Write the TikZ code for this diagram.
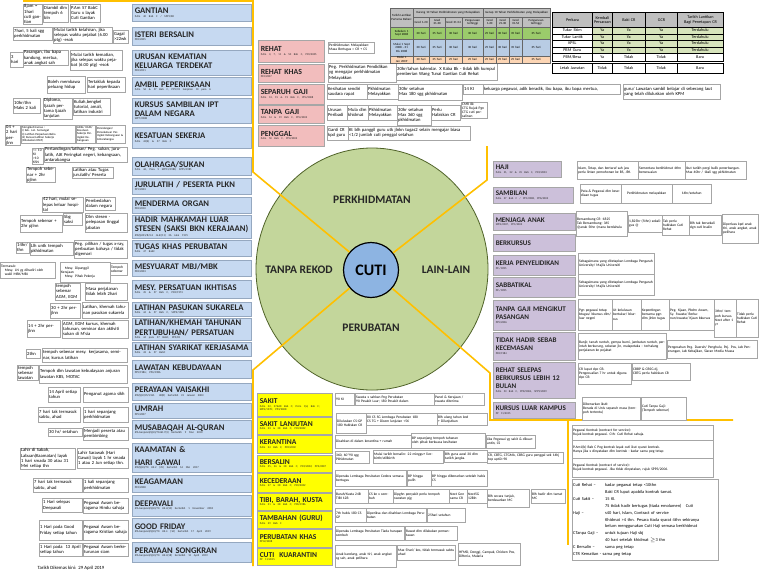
\documentclass[tikz,border=0pt]{standalone}
\usepackage{fontspec}
\setmainfont{Carlito}
\usepackage{tikz}
\usetikzlibrary{shapes.geometric}
\definecolor{Gold}{HTML}{FFC000}
\definecolor{Edge}{HTML}{A6A6A6}
\definecolor{BlueFill}{HTML}{C6D9F1}
\definecolor{BlueEdge}{HTML}{95A8C0}
\definecolor{RedFill}{HTML}{F2BDBD}
\definecolor{PurpleFill}{HTML}{CCC0DA}
\definecolor{YellowFill}{HTML}{FFFF00}
\definecolor{Leaf}{HTML}{C3D69B}
\definecolor{LeafEdge}{HTML}{4F6228}
\definecolor{Core}{HTML}{8DB4E2}
\definecolor{THead}{HTML}{BFBFBF}
\definecolor{TGreen}{HTML}{9BCB6B}
\definecolor{TBlue}{HTML}{B8CCE4}
\definecolor{TPeach}{HTML}{FCD5B4}
\definecolor{PGreen}{HTML}{D7E4BC}
\newcommand{\lawref}[1]{\\{\fontsize{2.8}{3.3}\selectfont\mdseries #1\par}}
\tikzset{
  sz/.code 2 args={\pgfmathsetmacro\boxw{#1-2}\pgfmathsetmacro\boxh{#2}\edef\boxkeys{text width=\boxw pt,minimum height=\boxh pt}\expandafter\pgfkeysalso\expandafter{\boxkeys}},
  tsz/.code 2 args={\pgfmathsetmacro\boxw{#1-5}\pgfmathsetmacro\boxh{#2}\edef\boxkeys{text width=\boxw pt,minimum height=\boxh pt}\expandafter\pgfkeysalso\expandafter{\boxkeys}},
  note/.style={draw=Edge,fill=white,line width=.35pt,anchor=north west,align=left,inner xsep=1pt,inner ysep=.5pt,font=\fontsize{4.6}{5.2}\selectfont},
  smallnote/.style={font=\fontsize{3.6}{4.1}\selectfont},
  tinynote/.style={font=\fontsize{3}{3.4}\selectfont},
  titlebox/.style={anchor=north west,align=left,inner xsep=2.5pt,inner ysep=1pt,line width=.5pt,text=black!85},
  bluebox/.style={titlebox,draw=BlueEdge,fill=BlueFill,font=\fontsize{8.6}{9.6}\selectfont\bfseries},
  redbox/.style={titlebox,draw=Edge,fill=RedFill,font=\fontsize{7.8}{8.8}\selectfont\bfseries},
  purplebox/.style={titlebox,draw=Edge,fill=PurpleFill,font=\fontsize{7.1}{8.1}\selectfont\bfseries},
  yellowbox/.style={titlebox,draw=Edge,fill=YellowFill,font=\fontsize{7.5}{8.5}\selectfont\bfseries},
  goldline/.style={draw=Gold,line width=1.6pt},
  wheel/.style={ellipse,draw=LeafEdge,fill=Leaf,line width=.8pt,minimum width=232pt,minimum height=242pt},
  hub/.style={circle,draw=black,fill=Core,line width=1.2pt,minimum size=55pt,inner sep=0pt,font=\fontsize{16}{18}\selectfont\bfseries},
  sector/.style={font=\fontsize{11.5}{13}\selectfont\bfseries,text=black!85},
  cell/.style={draw=black!60,line width=.3pt,anchor=north west,inner xsep=1pt,inner ysep=0pt,align=center,font=\fontsize{3.1}{3.5}\selectfont},
  pcell/.style={draw=black,line width=.6pt,anchor=north west,inner xsep=1pt,inner ysep=0pt,align=center,font=\fontsize{4.2}{4.7}\selectfont}
}
\begin{document}
\begin{tikzpicture}[x=1pt,y=-1pt]
  \fill[white] (0,0) rectangle (768,576);
  \useasboundingbox (0,0) rectangle (768,576);

  % hub and the four groups
  \node[wheel] (wheel) at (372,269) {};
  \node[hub] (cuti) at (371,270) {CUTI};
  \coordinate (tl1) at (253,172); \coordinate (tl2) at (253,1); \coordinate (tl3) at (23,1);
  \coordinate (bl1) at (253,370); \coordinate (bl2) at (253,566);
  \coordinate (tr1) at (487,180); \coordinate (tr2) at (487,146);
  \coordinate (br1) at (490,373); \coordinate (br2) at (490,420); \coordinate (br3) at (733,420);
  \coordinate (bs1) at (568,420); \coordinate (bs2) at (568,545);
  \draw[goldline] (cuti) -- (tl1) -- (tl2) -- (tl3);
  \draw[goldline] (cuti) -- (bl1) -- (bl2);
  \draw[goldline] (cuti) -- (tr1) -- (tr2);
  \draw[goldline] (cuti) -- (br1) -- (br2) -- (br3);
  \draw[goldline] (bs1) -- (bs2);
  \node[sector] (khidmat) at (372,200) {PERKHIDMATAN};
  \node[sector] (tanparekod) at (299,270) {TANPA REKOD};
  \node[sector] (lainlain) at (446,270) {LAIN-LAIN};
  \node[sector] (perubatan) at (371,328) {PERUBATAN};

  % tanpa rekod: titles
  \node[bluebox,tsz={119}{17}] (b1) at (132,4) {GANTIAN\lawref{P.Am 40 Bab C / SPP1/80}};
  \node[bluebox,tsz={119}{18}] (b2) at (132,27) {ISTERI BERSALIN\lawref{PP6/2005}};
  \node[bluebox,tsz={119}{25}] (b3) at (132,50) {URUSAN KEMATIAN\\KELUARGA TERDEKAT\lawref{PP6/2011}};
  \node[bluebox,tsz={119}{18}] (b4) at (132,77) {AMBIL PEPERIKSAAN\lawref{P.Am 56 \& 57 Bab C, PP5/76 lampiran 10 para 6}};
  \node[bluebox,tsz={119}{25}] (b5) at (132,98) {KURSUS SAMBILAN IPT\\DALAM NEGARA\lawref{SPP7/2008}};
  \node[bluebox,tsz={119}{21}] (b6) at (132,127) {KESATUAN SEKERJA\lawref{P.Am 42(b) \& 57 Bab C}};
  \node[bluebox,tsz={119}{18}] (b7) at (132,157) {OLAHRAGA/SUKAN\lawref{P.Am 46, Para 5 SPP11/1980; SPP5/1985}};
  \node[bluebox,tsz={119}{16}] (b8) at (132,178) {JURULATIH / PESERTA PLKN\lawref{PP1/2003}};
  \node[bluebox,tsz={119}{16}] (b9) at (132,197) {MENDERMA ORGAN\lawref{PP6/2010}};
  \node[bluebox,tsz={119}{23}] (b10) at (132,215) {HADIR MAHKAMAH LUAR\\STESEN (SAKSI BKN KERAJAAN)\lawref{JPA(S)201/8/3-3 Jk.6/(11) 26 Julai 1991}};
  \node[bluebox,tsz={119}{16}] (b11) at (132,240) {TUGAS KHAS PERUBATAN\lawref{P.Am 47 BabC}};
  \node[bluebox,tsz={119}{16}] (b12) at (132,260) {MESYUARAT MBJ/MBK\lawref{PP6/2003}};
  \node[bluebox,tsz={119}{18}] (b13) at (132,280) {MESY. PERSATUAN IKHTISAS\lawref{P.Am 45 \& 57 Bab C, PP6/1973}};
  \node[bluebox,tsz={119}{14}] (b14) at (132,302) {LATIHAN PASUKAN SUKARELA\lawref{P.Am 44 \& 57 Bab C, SPP2/1985}};
  \node[bluebox,tsz={119}{22}] (b15) at (132,318) {LATIHAN/KHEMAH TAHUNAN\\PERTUBUHAN/ PERSATUAN\lawref{P.Am 44 para 57 BabC, PP5/81}};
  \node[bluebox,tsz={119}{14}] (b16) at (132,342) {LATIHAN SYARIKAT KERJASAMA\lawref{P.Am 43 \& 57 BabC}};
  \node[bluebox,tsz={119}{18}] (b17) at (132,360) {LAWATAN KEBUDAYAAN\lawref{PP5/1986; PP6/1986}};
  \node[bluebox,tsz={119}{17}] (b18) at (132,383) {PERAYAAN VAISAKHI\lawref{JPA(S)(K)15/5/Jld. 48(8) bertarikh 31 Januari 2003}};
  \node[bluebox,tsz={119}{15}] (b19) at (132,403) {UMRAH\lawref{PP5/2007}};
  \node[bluebox,tsz={119}{18}] (b20) at (132,420) {MUSABAQAH AL-QURAN\lawref{JPA.Ganjaran(S)(K)/70.Jkt.7(3) bertarikh 9 Mac 2010}};
  \node[bluebox,tsz={119}{29}] (b21) at (132,443) {KAAMATAN \&\\[3pt]HARI GAWAI\lawref{JPA(S)(K)/70 Jld.2 (25) bertarikh 16 Mei 2017}};
  \node[bluebox,tsz={119}{17}] (b22) at (132,475) {KEAGAMAAN\lawref{PP4/2008}};
  \node[bluebox,tsz={119}{21}] (b23) at (132,495) {DEEPAVALI\lawref{JPA.Ganjaran(S)(K)/70 Jld.4(10) bertarikh 1 November 2018}};
  \node[bluebox,tsz={119}{20}] (b24) at (132,518) {GOOD FRIDAY\lawref{JPA.Ganjaran(S)(K)/70 Jld.4 (16) bertarikh 17 April 2019}};
  \node[bluebox,tsz={119}{20}] (b25) at (132,542) {PERAYAAN SONGKRAN\lawref{JPA.Ganjaran(S)(K)/70 Jld.4(18) bertarikh 13 April 2019}};

  % tanpa rekod: notes
  \node[note,sz={19}{18}] (l1) at (23,4) {8jam = 1hari cuti gantian};
  \node[note,sz={25}{18}] (l2) at (43,4) {Diambil dlm tempoh 6 bln};
  \node[note,sz={30}{18}] (l3) at (70,4) {P.Am 57 BabC Guru x layak Cuti Gantian};
  \node[note,sz={39}{13}] (l4) at (13,27) {7hari, 5 kali sgg perkhidmatan};
  \node[note,sz={59}{16}] (l5) at (53,27) {Mulai tarikh kelahiran, jika selepas waktu pejabat (6.00 ptg) -esok};
  \node[note,sz={15}{13}] (l6) at (113,30) {Gagal >22wk};
  \node[note,sz={13}{15}] (l7) at (10,52) {3 hari};
  \node[note,sz={45}{15}] (l8) at (23,50) {Pasangan, ibu bapa kandung, mertua, anak angkat sah};
  \node[note,sz={52}{20}] (l9) at (70,50) {Mulai tarikh kematian, jika selepas waktu pejabat (6.00 ptg) -esok};
  \node[note,sz={38}{17}] (l10) at (47,76) {Boleh membawa peluang hidup};
  \node[note,sz={38}{15}] (l11) at (87,77) {Tertakluk kepada hari peperiksaan};
  \node[note,sz={27}{15}] (l12) at (13,98) {10hr/thn Maks 2 kali};
  \node[note,sz={29}{17}] (l13) at (43,98) {Diploma, Ijazah pertama Ijazah lanjutan};
  \node[note,sz={37}{17}] (l14) at (73,98) {Kuliah,bengkel tutorial, amali, latihan industri};
  \node[note,sz={15}{15}] (l15) at (5,125) {04 + 2 hari perjlnn};
  \node[note,tinynote,sz={54}{18}] (l16) at (21,125) {Mengikuti kursus :\\i) Sek. Lat. Semangat\\ii) Latihan Perpaduan Belia\\iii) Kursus/Latihan Sekerja\\(Diluluskan KSM)};
  \node[note,tinynote,sz={19}{18}] (l17) at (76,125) {ADSL/ EGM/ Kesatuan Sekerja Peringkat Kebangsaan};
  \node[note,tinynote,sz={29}{18}] (l18) at (96,125) {Persidangan/ Persekutuan Peringkat Kebangsaan \& Antarabangsa};
  \node[note,smallnote,sz={11}{10}] (l19) at (32,148) {<= 10 KI\\>10 KSN};
  \node[note,sz={83}{13}] (l20) at (44,147) {Pertandingan/latihan/ Peg. sukan, jurulatih, AJK Peringkat negeri, kebangsaan, antarabangsa};
  \node[note,sz={29}{11}] (l21) at (26,167) {Tempoh sebenar + 2hr pjlnn};
  \node[note,sz={41}{11}] (l22) at (72,167) {Latihan atau Tugas jurulatih/ Peserta};
  \node[note,sz={41}{11}] (l23) at (42,197) {42 hari, mulai selepas keluar hospital};
  \node[note,sz={30}{13}] (l24) at (85,197) {Pembedahan dalam negara};
  \node[note,sz={42}{17}] (l25) at (20,215) {Tempoh sebenar + 2hr pjlnn};
  \node[note,sz={19}{12}] (l26) at (63,213) {Sbg saksi};
  \node[note,sz={42}{19}] (l27) at (85,213) {Dlm stesen - pelepasan tinggal jabatan};
  \node[note,sz={13}{11}] (l28) at (16,242) {14hr/ thn};
  \node[note,sz={43}{13}] (l29) at (30,242) {Llh untk tempoh pkhidmatan};
  \node[note,sz={53}{18}] (l30) at (74,240) {Peg. pilihan / tugas x-ray, perbuatan bahaya / tidak digemari};
  \node[note,smallnote,sz={55}{16}] (l31) at (0,262) {Termasuk:\\ \quad Mesy. LN yg dihadiri oleh\\ \quad wakil MBK/MBJ};
  \node[note,smallnote,sz={50}{20}] (l32) at (60,262) {\quad Mesy. Dipanggil\\Kerajaan\\\quad Mesy. Pihak Pekerja};
  \node[note,smallnote,sz={17}{12}] (l33) at (110,263) {Tempoh sebenar};
  \node[note,sz={25}{17}] (l34) at (55,283) {tempoh sebenar AGM, EGM};
  \node[note,sz={42}{17}] (l35) at (85,283) {Masa perjalanan tidak lebih 2hari};
  \node[note,sz={30}{15}] (l36) at (50,303) {30 + 2hr perjlnn};
  \node[note,sz={46}{16}] (l37) at (82,302) {Latihan, khemah tahunan pasukan sukarela};
  \node[note,sz={33}{17}] (l38) at (27,320) {14 + 2hr perjlnn};
  \node[note,sz={66}{18}] (l39) at (62,320) {AGM, EGM kursus, khemah tahunan, seminar dan aktiviti sukan di M'sia};
  \node[note,sz={14}{9}] (l40) at (26,349) {2thn};
  \node[note,sz={85}{14}] (l41) at (42,348) {tempoh sebenar mesy. kerjasama, seminar, kursus latihan};
  \node[note,sz={21}{15}] (l42) at (17,365) {tempoh sebenar lawatan};
  \node[note,sz={88}{18}] (l43) at (39,365) {Tempoh dlm lawatan kebudayaan anjuran lawatan KBS, MOTAC};
  \node[note,sz={32}{15}] (l44) at (48,387) {14 April setiap tahun};
  \node[note,sz={45}{15}] (l45) at (83,387) {Penganut agama sikh};
  \node[note,sz={42}{15}] (l46) at (38,407) {7 hari tak termasuk sabtu, ahad};
  \node[note,sz={45}{15}] (l47) at (83,407) {1 hari sepanjang perkhidmatan};
  \node[note,sz={34}{8}] (l48) at (48,428) {30 hr/ setahun};
  \node[note,sz={45}{13}] (l49) at (83,427) {Menjadi peserta atau pembimbing};
  \node[note,sz={55}{20}] (l50) at (20,448) {Lahir di Sabah, Labuan(Kaamatan) layak 1 hari smada 30 atau 31 Mei setiap thn};
  \node[note,sz={51}{20}] (l51) at (77,448) {Lahir Sarawak (Hari Gawai) layak 1 hr smada 1 atau 2 Jun setiap thn.};
  \node[note,sz={49}{14}] (l52) at (33,478) {7 hari tak termasuk sabtu, ahad};
  \node[note,sz={45}{14}] (l53) at (83,478) {1 kali sepanjang perkhidmatan};
  \node[note,sz={40}{14}] (l54) at (42,498) {1 Hari selepas Deepavali};
  \node[note,sz={45}{15}] (l55) at (83,498) {Pegawai Awam beragama Hindu sahaja};
  \node[note,sz={43}{20}] (l56) at (39,520) {1 Hari pada Good Friday setiap tahun};
  \node[note,sz={45}{20}] (l57) at (83,520) {Pegawai Awam beragama Kristian sahaja};
  \node[note,sz={43}{13}] (l58) at (39,543) {1 Hari pada\ \ 13 April setiap tahun};
  \node[note,sz={45}{13}] (l59) at (83,543) {Pegawai Awam berketurunan siam};
  \node[font=\fontsize{4.8}{5.4}\selectfont] (updated) at (71,568) {Tarikh Dikemas kini:\ \ 29 April 2019};

  % perkhidmatan
  \node[redbox,tsz={66}{22}] (r1) at (258,40) {REHAT\lawref{P.Am 3, 7, 11 \& 50 Bab C, PP4/2005}};
  \node[redbox,tsz={66}{18}] (r2) at (258,64) {REHAT KHAS\lawref{PP4/2007}};
  \node[redbox,tsz={66}{20}] (r3) at (258,84) {SEPARUH GAJI\lawref{P.Am 13, 15 \& 19 Bab C, PP4/2008}};
  \node[redbox,tsz={66}{18}] (r4) at (258,105) {TANPA GAJI\lawref{P.Am 14 \& 19 Bab C, PP4/2002}};
  \node[redbox,tsz={66}{21}] (r5) at (258,125) {PENGGAL\lawref{P.Am 50 Bab C, PP4/2002}};
  \node[note,smallnote,sz={46}{11}] (rn1) at (328,42) {Perkhidmatan Melayakkan:\\Masa Bertugas = CR + CS};
  \node[note,sz={68}{19}] (rn2) at (328,63) {Peg. Perkhidmatan Pendidikan yg mengajar perkhidmatan Melayakkan};
  \node[note,sz={101}{17}] (rn3) at (396,63) {30hr/tahun kalendar. X Kaba Bk - tidak blh kumpul pemberian Wang Tunai Gantian Cuti Rehat};
  \node[note,sz={40}{15}] (rn4) at (327,84) {Kesihatan sendiri saudara rapat};
  \node[note,sz={31}{15}] (rn5) at (367,84) {Pkhidmatan Melayakkan};
  \node[note,sz={64}{16}] (rn6) at (398,84) {30hr setahun\\Max 180 sgg pkhidmatan};
  \node[note,sz={20}{10}] (rn7) at (463,84) {14 KI};
  \node[note,sz={137}{10}] (rn8) at (483,84) {keluarga pegawai, adik beradik, ibu bapa, ibu bapa mertua,};
  \node[note,sz={97}{15}] (rn9) at (623,84) {guru/ Lawatan sambil belajar di seberang laut yang telah diluluskan oleh KPM};
  \node[note,sz={20}{15}] (rn10) at (327,105) {Urusan Peribadi};
  \node[note,sz={21}{15}] (rn11) at (347,105) {Mula dlm khidmat};
  \node[note,sz={29}{15}] (rn12) at (368,105) {Pkhidmatan Melayakkan};
  \node[note,sz={34}{20}] (rn13) at (397,105) {30hr setahun Max 360 sgg pkhidmatan};
  \node[note,sz={29}{15}] (rn14) at (431,105) {Perlu Habiskan CR};
  \node[note,smallnote,sz={26}{16}] (rn15) at (461,102) {CMR 8k\\CTG Rujuk Pgn\\CTG cuti persalinan};
  \node[note,sz={21}{14}] (rn16) at (327,126) {Ganti CR kpd guru};
  \node[note,sz={122}{14}] (rn17) at (348,126) {Kt blh panggil guru utk jlnkn tugas2 selain mengajar biasa <1/2 jumlah cuti penggal setahun};

  % jadual kelayakan cuti rehat
  \node[cell,fill=THead,sz={23}{19}] (lt-h0) at (390,8) {Tarikh Lantikan Pertama Bahan:};
  \node[cell,fill=THead,sz={70}{9}] (lt-h1) at (413,8) {Kurang 10 Tahun Perkhidmatan yang Melayakkan};
  \node[cell,fill=THead,sz={67}{9}] (lt-h2) at (483,8) {Genap 10 Tahun Perkhidmatan yang Melayakkan};
  \foreach \g [count=\c] in {Gred 1-20,Gred 21-30,Gred 31-54,Pengurusan tertinggi,Gred 1-20,Gred 21-30,Gred 31-54,Pengurusan tertinggi}{
    \pgfmathsetmacro\xa{{390,413,429,445,462,483,496,509,522,550}[\c]}
    \pgfmathsetmacro\xb{{390,413,429,445,462,483,496,509,522,550}[\c+1]}
    \node[cell,fill=THead,sz={\xb-\xa}{10}] (lt-s\c) at (\xa,17) {\g};
  }
  \foreach \ya/\yb/\fc/\lab/\vals [count=\r] in {
      27/39/TGreen/{Sebelum 1 Sept 2008}/{20 hari,25 hari,30 hari,30 hari,25 hari,30 hari,35 hari,35 hari},
      39/56/TBlue/{Mulai 1 Sept 2008 - 31 Dis 2008}/{20 hari,25 hari,30 hari,30 hari,25 hari,30 hari,35 hari,35 hari},
      56/63/TPeach/{Mulai 1 Jan 2009}/{20 hari,25 hari,25 hari,25 hari,25 hari,25 hari,25 hari,25 hari}}{
    \node[cell,fill=\fc,sz={23}{\yb-\ya}] (lt-\r-0) at (390,\ya) {\lab};
    \foreach \v [count=\c] in \vals {
      \pgfmathsetmacro\xa{{390,413,429,445,462,483,496,509,522,550}[\c]}
      \pgfmathsetmacro\xb{{390,413,429,445,462,483,496,509,522,550}[\c+1]}
      \node[cell,fill=\fc,sz={\xb-\xa}{\yb-\ya}] (lt-\r-\c) at (\xa,\ya) {\v};
    }
  }

  % jadual baki cuti rehat
  \foreach \h [count=\c] in {Perkara,Kembali Persaraan,Baki CR,GCR,Tarikh Lantikan Bagi Penetapan CR}{
    \pgfmathsetmacro\xa{{552,592,612,645,677,723}[\c-1]}
    \pgfmathsetmacro\xb{{552,592,612,645,677,723}[\c]}
    \node[pcell,fill=THead,line width=.9pt,sz={\xb-\xa}{15}] (pt-0-\c) at (\xa,12) {\h};
  }
  \foreach \ya/\yb/\fc/\lab/\vals [count=\r] in {
      27/33.5/PGreen/{Tukar Skim}/{Ya,Ya,Ya,Terdahulu},
      33.5/40/PGreen/{Tukar Lantik}/{Ya,Ya,Ya,Terdahulu},
      40/46.5/PGreen/{KPSL}/{Ya,Ya,Ya,Terdahulu},
      46.5/53/PGreen/{PBM Guru}/{Ya,Ya,Ya,Terdahulu},
      53/61/white/{PBM/Besa}/{Ya,Tidak,Tidak,Baru},
      62.5/72.5/white/{Letak Jawatan}/{Tidak,Tidak,Tidak,Baru}}{
    \node[pcell,fill=white,sz={40}{\yb-\ya}] (pt-\r-1) at (552,\ya) {\lab};
    \foreach \v [count=\c] in \vals {
      \pgfmathsetmacro\xa{{552,592,612,645,677,723}[\c]}
      \pgfmathsetmacro\xb{{552,592,612,645,677,723}[\c+1]}
      \node[pcell,line width=.4pt,fill=\fc,sz={\xb-\xa}{\yb-\ya}] (pt-\r-v\c) at (\xa,\ya) {\v};
    }
  }

  % lain-lain
  \node[purplebox,tsz={68}{16}] (p1) at (493,161) {HAJI\lawref{P.Am 31, 32 \& 35 Bab C, PP4/2003}};
  \node[purplebox,tsz={80}{16}] (p2) at (493,187) {SAMBILAN\lawref{P.Am 37 Bab C / PP1/2008, PP6/2003}};
  \node[purplebox,tsz={82}{17}] (p3) at (493,213) {MENJAGA ANAK\lawref{SPP4/2007, PP1/2003}};
  \node[purplebox,tsz={82}{17}] (p4) at (493,234) {BERKURSUS};
  \node[purplebox,tsz={82}{20}] (p5) at (493,255) {KERJA PENYELIDIKAN\lawref{PP../1985}};
  \node[purplebox,tsz={82}{20}] (p6) at (493,277) {SABBATIKAL\lawref{PP../1985}};
  \node[purplebox,tsz={82}{30}] (p7) at (493,300) {TANPA GAJI MENGIKUT\\PASANGAN\lawref{PP5/2006}};
  \node[purplebox,tsz={82}{28}] (p8) at (493,332) {TIDAK HADIR SEBAB\\KECEMASAN\lawref{PP6/1984}};
  \node[purplebox,tsz={82}{36}] (p9) at (493,362) {REHAT SELEPAS\\BERKURSUS LEBIH 12\\BULAN\lawref{P.Am 53 Bab C, PP8/2004, SPP9/2009}};
  \node[purplebox,tsz={82}{16}] (p10) at (493,402) {KURSUS LUAR KAMPUS\lawref{PP 11/2015}};
  \node[note,smallnote,sz={61}{18}] (pn1) at (577,161) {Islam, Tetap, dan bertaraf sah jaw perlu lintan pemohonan ke BS, JPA};
  \node[note,smallnote,sz={47}{18}] (pn2) at (638,161) {Sementara berkhidmat 4thn bersesuaian};
  \node[note,smallnote,sz={61}{18}] (pn3) at (685,161) {Ikut tarikh pergi balik penerbangan. Max 40hr / 1kali sgg pkhidmatan};
  \node[note,smallnote,sz={41}{19}] (pn4) at (580,184) {Pata \& Pegawai dlm kesediaan tugas};
  \node[note,smallnote,align=center,sz={51}{19}] (pn5) at (621,184) {Perkhidmatan melayakkan};
  \node[note,smallnote,align=center,sz={39}{19}] (pn6) at (672,184) {14hr/setahun};
  \node[note,smallnote,sz={51}{25}] (pn7) at (576,211) {Bersambung CR -1825\\ Tak Bersambung- 365\\@anak 5thn (mana berdahulu};
  \node[note,smallnote,sz={34}{17}] (pn8) at (628,215) {1,825hr (5thn) sekaligus @};
  \node[note,smallnote,sz={27}{20}] (pn9) at (662,215) {Tak perlu habiskan Cuti Rehat};
  \node[note,smallnote,sz={32}{20}] (pn10) at (689,215) {Blh tak bersekali dgn cuti bsalin};
  \node[note,smallnote,sz={36}{29}] (pn11) at (722,214) {Diperluas kpd anak tiri, anak angkat, anak pelihara};
  \node[note,smallnote,sz={76}{21}] (pn12) at (578,253) {Sebagaimana yang ditetapkan Lembaga Pengarah University/ Majlis Universiti};
  \node[note,smallnote,sz={76}{21}] (pn13) at (578,274) {Sebagaimana yang ditetapkan Lembaga Pengarah University/ Majlis Universiti};
  \node[note,smallnote,sz={34}{31}] (pn14) at (578,299) {Pgn pegawai tetap btugas/ bkursus dlm/ luar negeri};
  \node[note,smallnote,sz={29}{31}] (pn15) at (612,299) {Ut kelulusan bertukar/ bkursus};
  \node[note,smallnote,sz={28}{31}] (pn16) at (641,299) {Kepentingan bersama pgn dlm jlnkn tugas};
  \node[note,smallnote,sz={45}{31}] (pn17) at (669,299) {Peg. Kjaan, Pbdrn Awam, Sy. Swasta/ Berkanun/swasta/ Kjaan bkursus};
  \node[note,smallnote,sz={22}{38}] (pn18) at (714,299) {3thn/ tempoh kursus. Next after 1 yr};
  \node[note,smallnote,sz={22}{38}] (pn19) at (736,299) {Tidak perlu habiskan Cuti Rehat};
  \node[note,smallnote,sz={88}{26}] (pn20) at (578,333) {Banjir, tanah runtuh, gempa bumi, jambatan runtuh, perintah berkurung, sekatan jln, malapetaka -- terhalang perjalanan ke pejabat};
  \node[note,smallnote,sz={90}{18}] (pn21) at (667,340) {Pengesahan Peg. Daerah/ Penghulu, Pej. Pos, Jab Penerangan, Jab Kebajikan, Siaran Media Massa};
  \node[note,smallnote,sz={53}{21}] (pn22) at (578,363) {CR luput dpc CB.\\Pengecualian 7 hr untuk diguna dpc CB};
  \node[note,smallnote,sz={58}{17}] (pn23) at (632,363) {CBBP \& CBSG dj,\\CBTG perlu habiskan CR};
  \node[note,smallnote,sz={58}{23}] (pn24) at (582,397) {Dibenarkan ikuti:\\Berada di Univ separuh masa (tempoh tertentu)};
  \node[note,smallnote,sz={45}{23}] (pn25) at (641,397) {Cuti Tanpa Gaji:\\(Tempoh sebenar)};

  % pegawai kontrak
  \node[note,smallnote,sz={141}{15}] (k1) at (572,425) {Pegawai Kontrak (contract for service):\\Rujuk kontrak pegawai. Cth: Cuti Rehat sahaja.};
  \node[note,smallnote,sz={141}{18}] (k2) at (572,440) {P.Am1(b) Bab C Peg kontrak layak cuti ikut syarat kontrak.\\Hanya jika x dinyatakan dlm kontrak - kadar sama peg tetap};
  \node[note,smallnote,sz={141}{19}] (k3) at (572,458) {Pegawai Kontrak (contract of service):\\Rujuk kontrak pegawai. Jika tidak dinyatakan, rujuk SPP3/2006.};
  \node[note,font=\fontsize{4.4}{6.9}\selectfont,sz={146}{81}] (k4) at (572,479) {\begin{tabular}{@{}p{30pt}@{\hspace{2pt}}l@{}}
    Cuti Rehat -- & kadar pegawai tetap <10thn\\
     & Baki CR luput apabila kontrak tamat.\\
    Cuti Sakit -- & 15 KI.\\
     & 7S tidak hadir bertugas (tiada emolumen)\quad Cuti\\
    Haji -- & s40 hari, Islam, Contract of service\\
     & Khidmat >4 thn. Pesara tiada syarat 4thn sekiranya\\
     & belum menggunakan Cuti Haji semasa berkhidmat\\
    CTanpa Gaji -- & untuk tujuan Haji sbj\\
     & 40 hari setelah khidmat \(\geq\)3 thn\\
    C Bersalin -- & sama peg tetap\\
    \multicolumn{2}{@{}l}{CTR Kematian - sama peg tetap}
  \end{tabular}};

  % perubatan
  \node[yellowbox,tsz={75}{23}] (y1) at (257,393) {SAKIT\lawref{P.Am 22, 27\&28 Bab C; P.Am 1(a) Bab F; SPP4/1970; PP3/2008}};
  \node[yellowbox,tsz={75}{17}] (y2) at (257,417) {SAKIT LANJUTAN\lawref{P.Am 23 \& 28 Bab C; PP4/2002}};
  \node[yellowbox,tsz={75}{18}] (y3) at (257,435) {KERANTINA\lawref{P.Am 24 Bab C; PP4/2002}};
  \node[yellowbox,tsz={75}{17}] (y4) at (257,455) {BERSALIN\lawref{P.Am 25, 26 \& 28 Bab C; PP4/2002; PP2/2007}};
  \node[yellowbox,tsz={75}{19}] (y5) at (257,473) {KECEDERAAN\lawref{P.Am 27 \& 28 Bab C; PP4/2002}};
  \node[yellowbox,tsz={75}{17}] (y6) at (257,493) {TIBI, BARAH, KUSTA\lawref{P.Am 21 \& 28 Bab C; PP6/1986}};
  \node[yellowbox,tsz={75}{17}] (y7) at (257,511) {TAMBAHAN (GURU)\lawref{P.Am 29 Bab C}};
  \node[yellowbox,tsz={75}{18}] (y8) at (257,529) {PERUBATAN KHAS\lawref{PP12/2008}};
  \node[yellowbox,tsz={75}{17}] (y9) at (257,548) {CUTI\ \ KUARANTIN\lawref{PP 11/2015}};
  \node[note,smallnote,sz={19}{12}] (yn1) at (335,393) {90 KI};
  \node[note,smallnote,sz={79}{12}] (yn2) at (355,393) {Swasta x sahkan Peg Perubatan\\90 Pesakit Luar; 180 Pesakit dalam};
  \node[note,smallnote,sz={50}{12}] (yn3) at (434,393) {Panel \& Kerajaan /\\swasta diterima};
  \node[note,smallnote,sz={30}{20}] (yn4) at (336,413) {Diluluskan CS-GP 180 Habiskan CR};
  \node[note,smallnote,sz={71}{12}] (yn5) at (366,413) {80 CS SG Lembaga Perubatan 180\\CS TG + Disem lanjutan <56};
  \node[note,smallnote,sz={50}{12}] (yn6) at (437,413) {Blh ulang tahun kod\\+ Dilanjutkan};
  \node[note,smallnote,sz={76}{13}] (yn7) at (335,435) {Disahkan di dalam kerantina + rumah};
  \node[note,smallnote,sz={74}{15}] (yn8) at (411,433) {BP sepanjang tempoh tahanan\\oleh pihak berkuasa kesihatan};
  \node[note,smallnote,sz={49}{13}] (yn9) at (486,435) {Jika Pegawai yg sakit \& dikuarantin, CS};
  \node[note,smallnote,sz={34}{12}] (yn10) at (335,451) {360, 60*90 sgg Pkhidmatan};
  \node[note,smallnote,sz={70}{13}] (yn11) at (373,450) {Mulai tarikh bersalin: 22 minggu+ livebirth/stillbirth};
  \node[note,smallnote,sz={43}{12}] (yn12) at (444,450) {Blh guna awal 30 dlm tarikh jangka.};
  \node[note,smallnote,sz={76}{11}] (yn13) at (487,452) {CR, CBTG, CTGMA, CBSG guru penggal sek 14hj top up60\textasciitilde90};
  \node[note,smallnote,sz={71}{16}] (yn14) at (335,470) {Diperaku Lembaga Perubatan Cedera semasa bertugas};
  \node[note,smallnote,sz={24}{16}] (yn15) at (407,470) {BP hingga pulih};
  \node[note,smallnote,sz={56}{16}] (yn16) at (431,470) {BP hingga dibenarkan setelah habis CS};
  \node[note,smallnote,sz={33}{14}] (yn17) at (335,489) {Barah/Kusta 24B TIBI 12B};
  \node[note,smallnote,sz={25}{14}] (yn18) at (368,489) {CS ke x sembuh};
  \node[note,smallnote,sz={56}{14}] (yn19) at (393,489) {Dipghn penyakit perlu tempoh rawatan pjg};
  \node[note,smallnote,sz={18}{14}] (yn20) at (449,489) {Next Gen sama CR};
  \node[note,smallnote,sz={20}{14}] (yn21) at (467,489) {Next5G 12Bln};
  \node[note,smallnote,sz={42}{18}] (yn22) at (487,489) {Blh secara tunjuk, berdasarkan MC};
  \node[note,smallnote,sz={34}{14}] (yn23) at (531,489) {Blh hadir dlm tamat MC};
  \node[note,smallnote,sz={31}{14}] (yn24) at (335,508) {7th habis 180 CS GP};
  \node[note,smallnote,sz={60}{14}] (yn25) at (366,508) {Diperiksa dan disahkan Lembaga Perubatan};
  \node[note,smallnote,sz={38}{14}] (yn26) at (427,508) {25hari setahun};
  \node[note,smallnote,sz={69}{14}] (yn27) at (335,526) {Diperaku Lembaga Perubatan Tiada harapan sembuh};
  \node[note,smallnote,sz={52}{14}] (yn28) at (405,526) {Rawat dlm dilakukan pemantauan};
  \node[note,smallnote,sz={61}{22}] (yn29) at (335,545) {Anak kandung, anak tiri, anak angkat sg sah, anak pelihara};
  \node[note,smallnote,sz={58}{15}] (yn30) at (397,545) {Max 5hari/ kes, tidak termasuk sabtu ahad};
  \node[note,smallnote,sz={62}{22}] (yn31) at (458,543) {HFMD, Denggi, Campak, Chicken Pox, Difteria, Malaria};
\end{tikzpicture}
\end{document}
